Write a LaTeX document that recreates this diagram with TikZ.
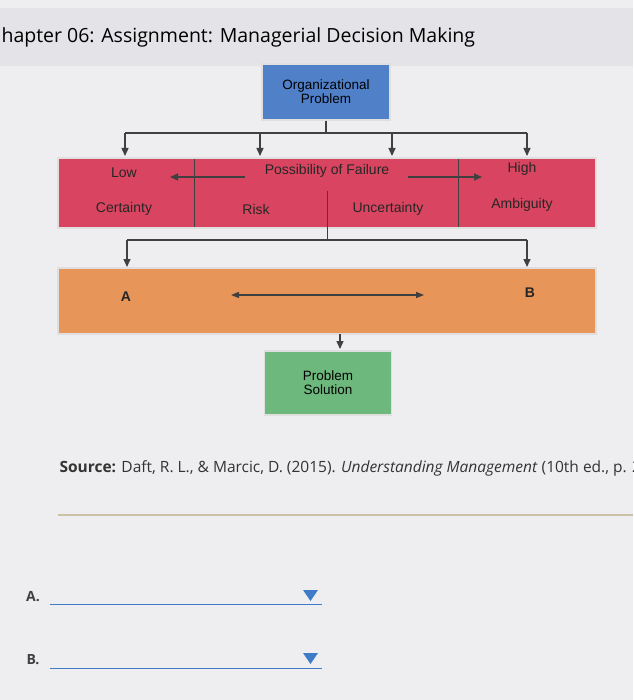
\documentclass[tikz,border=0pt]{standalone}
\usepackage{fontspec}
\setmainfont{Liberation Sans}
\newfontfamily\uifont{Open Sans}
\usetikzlibrary{arrows.meta}
\definecolor{bgc}{HTML}{EEEEF0}
\definecolor{hdr}{HTML}{E4E4E8}
\definecolor{blu}{HTML}{4F80C8}
\definecolor{redc}{HTML}{D94560}
\definecolor{orc}{HTML}{E8955A}
\definecolor{grn}{HTML}{6DB87C}
\definecolor{tan}{HTML}{C9C2A6}
\definecolor{ulc}{HTML}{3E7CC8}
\begin{document}
\begin{tikzpicture}[x=1pt,y=-1pt,
  box/.style={draw=white!75!gray,line width=1.5pt,align=center,font=\fontsize{13.5}{14}\selectfont,inner sep=0pt},
  lbl/.style={font=\fontsize{14}{16}\selectfont,text=black!85},
  conn/.style={draw=black!75,line width=1.4pt},
  arr/.style={conn,-{Triangle[length=8pt,width=7pt]}}]
\useasboundingbox (0,0) rectangle (633,700);
\fill[bgc] (0,0) rectangle (633,700);
\fill[hdr] (0,8) rectangle (633,66);
\draw[white!85!gray] (0,66) -- (633,66);
\node[anchor=west,font=\uifont\fontsize{19.5}{22}\selectfont] (title) at (-2,37) {hapter 06: Assignment: Managerial Decision Making};
% boxes
\node[box,fill=blu,minimum width=128pt,minimum height=56pt] (org) at (326,92) {Organizational\\Problem};
\node[box,fill=redc,minimum width=538pt,minimum height=70pt] (red) at (327,193) {};
\node[box,fill=orc,minimum width=538pt,minimum height=66pt] (ora) at (327,301) {};
\node[box,fill=grn,minimum width=127pt,minimum height=64pt] (sol) at (328,383) {Problem\\Solution};
% red band internals
\draw[conn,line width=1pt] (194,159) -- (194,227);
\draw[conn,line width=1pt] (458,159) -- (458,227);
\node[lbl] (low) at (124,173) {Low};
\node[lbl] (cert) at (124,209) {Certainty};
\node[lbl] (pof) at (327,171) {Possibility of Failure};
\node[lbl] (risk) at (256,209) {Risk};
\node[lbl] (unc) at (388,209) {Uncertainty};
\node[lbl] (high) at (522,169) {High};
\node[lbl] (amb) at (522,205) {Ambiguity};
\coordinate (pl1) at (245,177); \coordinate (pl2) at (170,177);
\coordinate (pr1) at (408,177); \coordinate (pr2) at (482,177);
\draw[arr] (pl1) -- (pl2);
\draw[arr] (pr1) -- (pr2);
% top connectors
\coordinate (t1) at (326,133);
\coordinate (ta) at (125,133); \coordinate (tb) at (260,133);
\coordinate (tc) at (392,133); \coordinate (td) at (527,133);
\draw[conn] (org.south) -- (t1);
\draw[conn] (ta) -- (td);
\draw[arr] (ta) -- (125,156);
\draw[arr] (tb) -- (260,156);
\draw[arr] (tc) -- (392,156);
\draw[arr] (td) -- (527,156);
% middle connectors
\coordinate (m0) at (327,191); \coordinate (m1) at (327,240);
\coordinate (ma) at (127,240); \coordinate (mb) at (527,240);
\draw[conn,line width=1pt] (m0) -- (m1);
\draw[conn] (ma) -- (mb);
\draw[arr] (ma) -- (127,267);
\draw[arr] (mb) -- (527,267);
% orange internals
\node[lbl,font=\bfseries\fontsize{14}{16}\selectfont] (A) at (126,297) {A};
\node[lbl,font=\bfseries\fontsize{14}{16}\selectfont] (B) at (530,293) {B};
\coordinate (oa) at (231,295); \coordinate (ob) at (424,295);
\draw[conn,{Triangle[length=8pt,width=6pt]}-{Triangle[length=8pt,width=6pt]}] (oa) -- (ob);
% to solution
\coordinate (s0) at (340,334);
\draw[arr] (s0) -- (340,349);
% source
\node[anchor=west,font=\uifont\fontsize{15.5}{17}\selectfont,text=black!80] (src) at (56,468) {\textbf{Source:} Daft, R. L., \& Marcic, D. (2015). \textit{Understanding Management} (10th ed., p. 232};
\draw[tan,line width=2.5pt] (58,515) -- (633,515);
% answers
\node[font=\uifont\bfseries\fontsize{14}{16}\selectfont,text=black!75] (qa) at (33,597) {A.};
\draw[ulc,line width=1pt] (50,604) -- (322,604);
\fill[ulc] (303,590) -- (318,590) -- (310.5,601) -- cycle;
\node[font=\uifont\bfseries\fontsize{14}{16}\selectfont,text=black!75] (qb) at (33,660) {B.};
\draw[ulc,line width=1pt] (50,668) -- (322,668);
\fill[ulc] (303,653) -- (318,653) -- (310.5,664) -- cycle;
\end{tikzpicture}
\end{document}
